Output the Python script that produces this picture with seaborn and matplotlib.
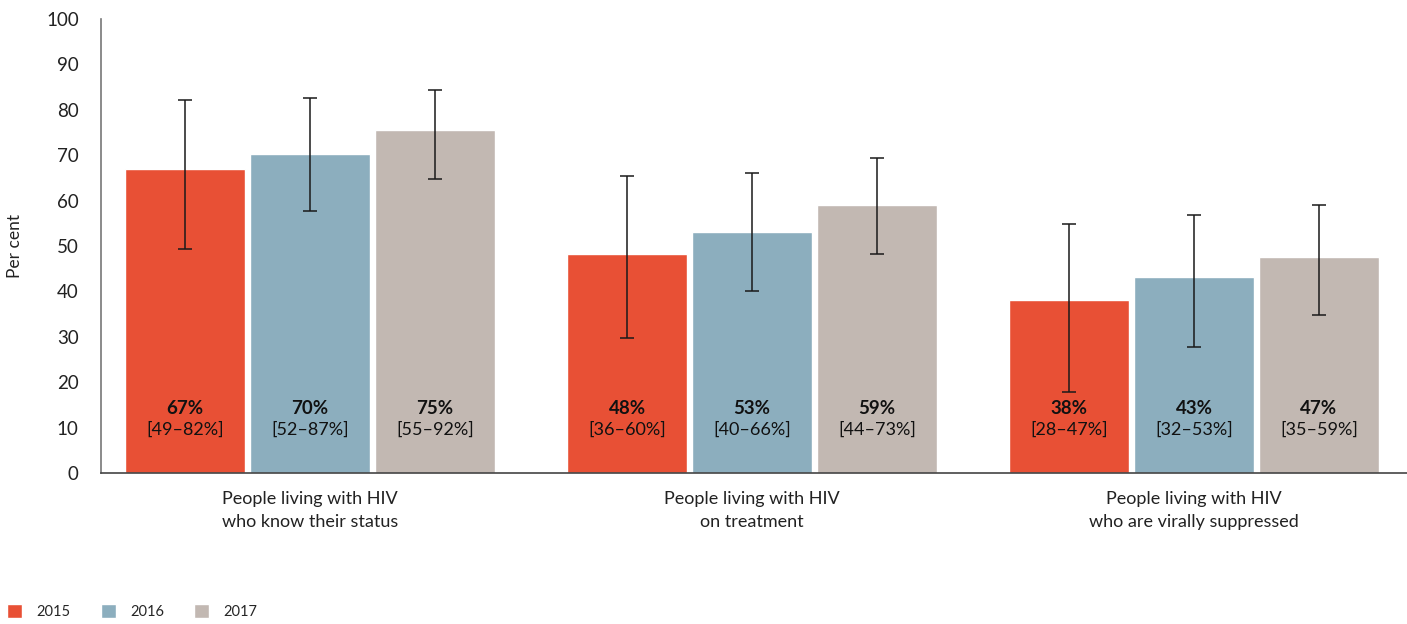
import matplotlib
matplotlib.use("Agg")
import matplotlib.pyplot as plt
import seaborn as sns
import pandas as pd

# Chart values
categories = [
    "People living with HIV\nwho know their status",
    "People living with HIV\non treatment",
    "People living with HIV\nwho are virally suppressed",
]
years = ["2015", "2016", "2017"]
values = {
    "2015": [67.0, 48.2, 38.1],
    "2016": [70.3, 53.1, 43.2],
    "2017": [75.5, 59.0, 47.6],
}
err_low = {
    "2015": [49.3, 29.8, 17.9],
    "2016": [57.7, 40.2, 27.8],
    "2017": [64.8, 48.2, 34.8],
}
err_high = {
    "2015": [82.2, 65.4, 54.8],
    "2016": [82.6, 66.0, 56.8],
    "2017": [84.4, 69.3, 59.0],
}
pct_labels = {
    "2015": ["67%", "48%", "38%"],
    "2016": ["70%", "53%", "43%"],
    "2017": ["75%", "59%", "47%"],
}
range_labels = {
    "2015": ["[49–82%]", "[36–60%]", "[28–47%]"],
    "2016": ["[52–87%]", "[40–66%]", "[32–53%]"],
    "2017": ["[55–92%]", "[44–73%]", "[35–59%]"],
}
colors = ["#E85035", "#8CAEBE", "#C2B8B2"]

rows = []
for yr in years:
    for i, cat in enumerate(categories):
        rows.append({"category": cat, "year": yr, "value": values[yr][i]})
df = pd.DataFrame(rows)

sns.set_style("white")
plt.rcParams["font.family"] = ["Lato", "DejaVu Sans"]

fig = plt.figure(figsize=(14.07, 6.24), dpi=100)
ax = fig.add_axes([0.0718, 0.242, 0.9282, 0.7275])

sns.barplot(data=df, x="category", y="value", hue="year", hue_order=years,
            palette=colors, width=0.848, gap=0.04, saturation=1,
            errorbar=None, ax=ax)

# error bars and in-bar labels, positioned from the drawn bars
bars = ax.patches[:len(years) * len(categories)]
for k, yr in enumerate(years):
    for i in range(len(categories)):
        p = bars[k * len(categories) + i]
        xc = p.get_x() + p.get_width() / 2
        v = values[yr][i]
        ax.errorbar(xc, v, yerr=[[v - err_low[yr][i]], [err_high[yr][i] - v]],
                    fmt="none", ecolor="#1a1a1a", elinewidth=1.1, capsize=5, capthick=1.1)
        ax.text(xc, 14.3, pct_labels[yr][i], ha="center", va="center",
                fontsize=13.5, fontweight="bold", color="#111111")
        ax.text(xc, 9.5, range_labels[yr][i], ha="center", va="center",
                fontsize=13, color="#111111")

ax.set_ylim(0, 100)
ax.set_xlim(-0.473, 2.482)
ax.set_yticks(range(0, 101, 10))
ax.tick_params(axis="y", length=0, pad=16, labelsize=13.5, labelcolor="#222222")
ax.tick_params(axis="x", length=0, pad=13, labelsize=13, labelcolor="#222222")
for lbl in ax.get_xticklabels():
    lbl.set_linespacing(1.5)
ax.set_xlabel("")
ax.set_ylabel("Per cent", fontsize=12.5, color="#222222")
ax.yaxis.set_label_coords(-0.06, 0.5)

sns.despine(ax=ax)
ax.spines["left"].set_color("#777777")
ax.spines["bottom"].set_color("#444444")
ax.spines["left"].set_linewidth(1.2)
ax.spines["bottom"].set_linewidth(1.2)

sns.move_legend(ax, "lower left", bbox_to_anchor=(7 / 1407, 5 / 624), bbox_transform=fig.transFigure,
                ncol=3, frameon=False, title=None, fontsize=10.5,
                borderaxespad=0, borderpad=0,
                handlelength=1.03, handleheight=1.03, handletextpad=1.0, columnspacing=2.05)

fig.savefig("out.png", dpi=100)
